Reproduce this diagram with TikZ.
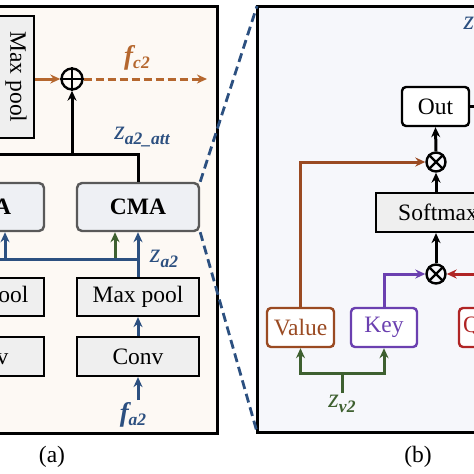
\documentclass[tikz,border=0pt]{standalone}
\usepackage{fontspec}
\setmainfont{Liberation Serif}
\usetikzlibrary{arrows.meta,calc}
\definecolor{cream}{HTML}{FDF9F4}
\definecolor{paleb}{HTML}{F6F7FB}
\definecolor{boxg}{HTML}{EFEFEF}
\definecolor{cmaf}{HTML}{EEF0F4}
\definecolor{cmad}{HTML}{595959}
\definecolor{bluec}{HTML}{2C5080}
\definecolor{greenc}{HTML}{3E6030}
\definecolor{brownc}{HTML}{9A4A22}
\definecolor{orangec}{HTML}{B5672E}
\definecolor{purplec}{HTML}{6B40B0}
\definecolor{redc}{HTML}{B02525}
\newcommand{\mainsz}{\fontsize{23.5}{28}\selectfont}
\newcommand{\subsz}{\fontsize{17.5}{20}\selectfont}
\newcommand{\varsz}{\fontsize{27}{30}\selectfont}
\tikzset{
  tip/.style={-{Stealth[length=10pt,width=9pt]}},
  graybox/.style={draw, fill=boxg, line width=2.2pt, minimum width=122pt, inner sep=0pt},
  cmabox/.style={draw=cmad, fill=cmaf, line width=2.4pt, rounded corners=5pt, minimum width=122pt, minimum height=48pt, inner sep=0pt, font=\mainsz\bfseries},
  rbox/.style={draw, fill=white, line width=2.4pt, rounded corners=4pt, minimum width=67pt, minimum height=39pt, inner sep=0pt},
  opc/.style={circle, draw, line width=2.4pt, minimum size=21pt, inner sep=0pt},
  otc/.style={circle, draw, line width=2.4pt, minimum size=19pt, inner sep=0pt},
  wire/.style={line width=3pt},
  zoomline/.style={line width=2.8pt, bluec, dash pattern=on 9pt off 5pt},
}
\begin{document}
\begin{tikzpicture}[x=1pt,y=-1pt,font=\mainsz]
\useasboundingbox (0,0) rectangle (474,474);
% panels
\draw[fill=cream, line width=3pt] (-10,6) rectangle (217,433);
\draw[fill=paleb, line width=3pt] (257,6) rectangle (500,432);
\coordinate (rtl) at (257,6);
\coordinate (rbl) at (257,432);
% ---------- panel (a)
\node[graybox, minimum width=40pt, minimum height=122pt] (mp0) at (14,77) {};
\node[rotate=-90] (mp0t) at (16,77) {Max pool};
\node[opc] (op) at (72,79) {};
\draw[line width=2.4pt] (op.north) -- (op.south) (op.west) -- (op.east);
\coordinate (fcend) at (207,79);
\draw[wire, orangec, tip] (mp0.east |- op) -- (op.west);
\draw[wire, orangec, tip, dash pattern=on 8pt off 4pt] (op.east) -- (fcend);
\node[text=orangec] (fc2) at (137,58) {\varsz\bfseries\itshape f\raisebox{-0.35ex}{\subsz c2}};

\node[cmabox] (cma1) at (-17,207) {CMA};
\node[cmabox] (cma2) at (138,207) {CMA};
\coordinate (blk) at (-12,154);
\draw[wire] (cma2.north) |- (blk);
\draw[wire, tip] (op |- blk) -- (op.south);
\node[text=bluec] (zatt) at (142,137) {\varsz\itshape z\raisebox{-0.35ex}{\subsz\bfseries a2\_att}};

\node[graybox, minimum height=38pt] (mp1) at (-17,297) {Max pool};
\node[graybox, minimum height=38pt] (mp2) at (138,297) {Max pool};
\node[graybox, minimum height=39pt] (cv1) at (-17,356.5) {Conv};
\node[graybox, minimum height=39pt] (cv2) at (138,356.5) {Conv};

\coordinate (bl) at (-12,259);
\coordinate (b1) at (5,259);
\coordinate (g2) at (115,259);
\draw[wire, greenc, tip] (g2) -- (g2 |- cma2.south);
\draw[wire, bluec] (mp2.north |- bl) -- (bl);
\draw[wire, bluec, tip] (b1) -- (b1 |- cma1.south);
\draw[wire, bluec, tip] (mp2.north) -- (cma2.south);
\draw[wire, bluec, tip] (cv2.north) -- (mp2.south);
\node[text=bluec] (za2) at (164,259) {\varsz\itshape z\raisebox{-0.35ex}{\subsz\bfseries a2}};
\node[text=bluec] (fa2) at (133,415) {\varsz\bfseries\itshape f\raisebox{-0.35ex}{\subsz a2}};
\coordinate (fa) at (138,400);
\draw[wire, bluec, tip] (fa) -- (cv2.south);
\node (la) at (52,457) {(a)};

% dashed zoom lines
\draw[zoomline] (cma2.north east) -- (rtl);
\draw[zoomline] (cma2.south east) -- (rbl);

% ---------- panel (b)
\node[text=bluec, anchor=west] (zt) at (460,27) {\varsz\itshape z\raisebox{-0.35ex}{\subsz\bfseries a2\_att}};
\node[rbox] (out) at (435.5,106.5) {Out};
\coordinate (oute) at (490,106.5);
\draw[wire] (out.east) -- (oute);
\node[otc] (ot1) at (436,162) {};
\draw[line width=2.4pt] (ot1.north east) -- (ot1.south west) (ot1.north west) -- (ot1.south east);
\node[graybox, minimum width=124pt, minimum height=39pt] (sm) at (438,212.5) {Softmax};
\node[otc] (ot2) at (436,274) {};
\draw[line width=2.4pt] (ot2.north east) -- (ot2.south west) (ot2.north west) -- (ot2.south east);

\node[rbox, draw=brownc, text=brownc] (val) at (300.5,327.5) {Value};
\node[rbox, draw=purplec, text=purplec, minimum width=66pt] (key) at (384,327.5) {Key};
\node[rbox, draw=redc, text=redc] (qry) at (492.5,327.5) {Query};

\draw[wire, tip] (ot1.north) -- (out.south);
\draw[wire, tip] (sm.north -| ot1) -- (ot1.south);
\draw[wire, tip] (ot2.north) -- (sm.south -| ot2);
\draw[wire, brownc, tip] (val.north) |- (ot1.west);
\draw[wire, purplec, tip] (key.north) |- (ot2.west);
\draw[wire, redc, tip] (qry.north) |- (ot2.east);

\coordinate (gj) at (342,373);
\coordinate (gb) at (342,393);
\draw[wire, greenc] (gb) -- (gj);
\draw[wire, greenc, tip] (gj) -| (val.south);
\draw[wire, greenc, tip] (gj) -| (key.south);
\node[text=greenc] (zv2) at (342,404) {\varsz\itshape z\raisebox{-0.35ex}{\subsz\bfseries v2}};
\node (lb) at (418,457) {(b)};
\end{tikzpicture}
\end{document}
